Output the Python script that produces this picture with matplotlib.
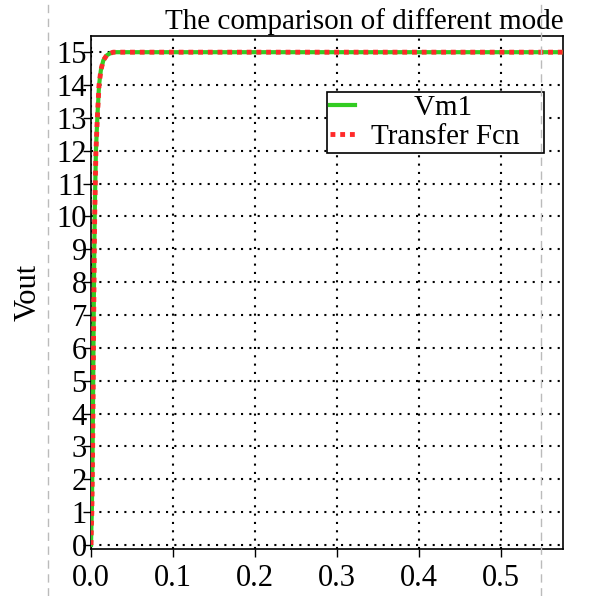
import matplotlib.pyplot as plt
from matplotlib.lines import Line2D

# step response (time in s, voltage in V)
t_vm1 = [0.0, 0.0005, 0.001, 0.0015, 0.002, 0.0027, 0.0033, 0.004, 0.0045, 0.0052,
         0.006, 0.0077, 0.0098, 0.012, 0.015, 0.019, 0.023, 0.027, 0.035, 0.6]
v_vm1 = [0.0, 0.6, 1.0, 2.0, 3.0, 5.0, 7.0, 9.0, 10.0, 11.0,
         12.0, 13.0, 14.0, 14.45, 14.75, 14.9, 14.96, 15.0, 15.0, 15.0]
t_tf = t_vm1
v_tf = v_vm1

plt.rcParams['font.family'] = ['Liberation Serif', 'DejaVu Serif']

fig = plt.figure(figsize=(5.91, 5.96), dpi=100)
ax = fig.add_axes([0.154, 0.079, 0.799, 0.861])

ax.plot(t_vm1, v_vm1, color='#33cc22', linewidth=3, label='      Vm1     ', zorder=3)
ax.plot(t_tf, v_tf, color='#ff2a2a', linewidth=3.5, linestyle=(0, (1, 1)),
        label='Transfer Fcn   ', zorder=4)

ax.set_xlim(0, 0.576)
ax.set_ylim(-0.12, 15.5)
ax.set_xticks([0, 0.1, 0.2, 0.3, 0.4, 0.5])
ax.set_xticklabels(['0.0', '0.1', '0.2', '0.3', '0.4', '0.5'])
ax.set_yticks(range(16))
ax.tick_params(labelsize=22, direction='out', length=6, width=1)
ax.tick_params(axis='x', pad=5)
ax.tick_params(axis='y', pad=-3)
ax.grid(True, color='black', linestyle=(0, (1, 3)), linewidth=1.5)
ax.set_axisbelow(True)
for s in ax.spines.values():
    s.set_linewidth(1.2)

ax.set_ylabel('Vout', fontsize=22, labelpad=10)
ax.set_title('The comparison of different mode', fontsize=21, loc='right', pad=5)

leg = ax.legend(loc='upper right', bbox_to_anchor=(0.96, 0.891), fontsize=21,
                frameon=True, fancybox=False, edgecolor='black', framealpha=1,
                handlelength=0.85, borderpad=0.1, labelspacing=0.1,
                handletextpad=0.55, borderaxespad=0)
leg.get_frame().set_linewidth(1.2)

# grey dashed guide lines of the original window
for xf in [48 / 591, 541 / 591]:
    fig.add_artist(Line2D([xf, xf], [0, 1], transform=fig.transFigure,
                          color='#bbbbbb', linestyle=(0, (6, 4)), linewidth=1))

fig.savefig('out.png', dpi=100)
